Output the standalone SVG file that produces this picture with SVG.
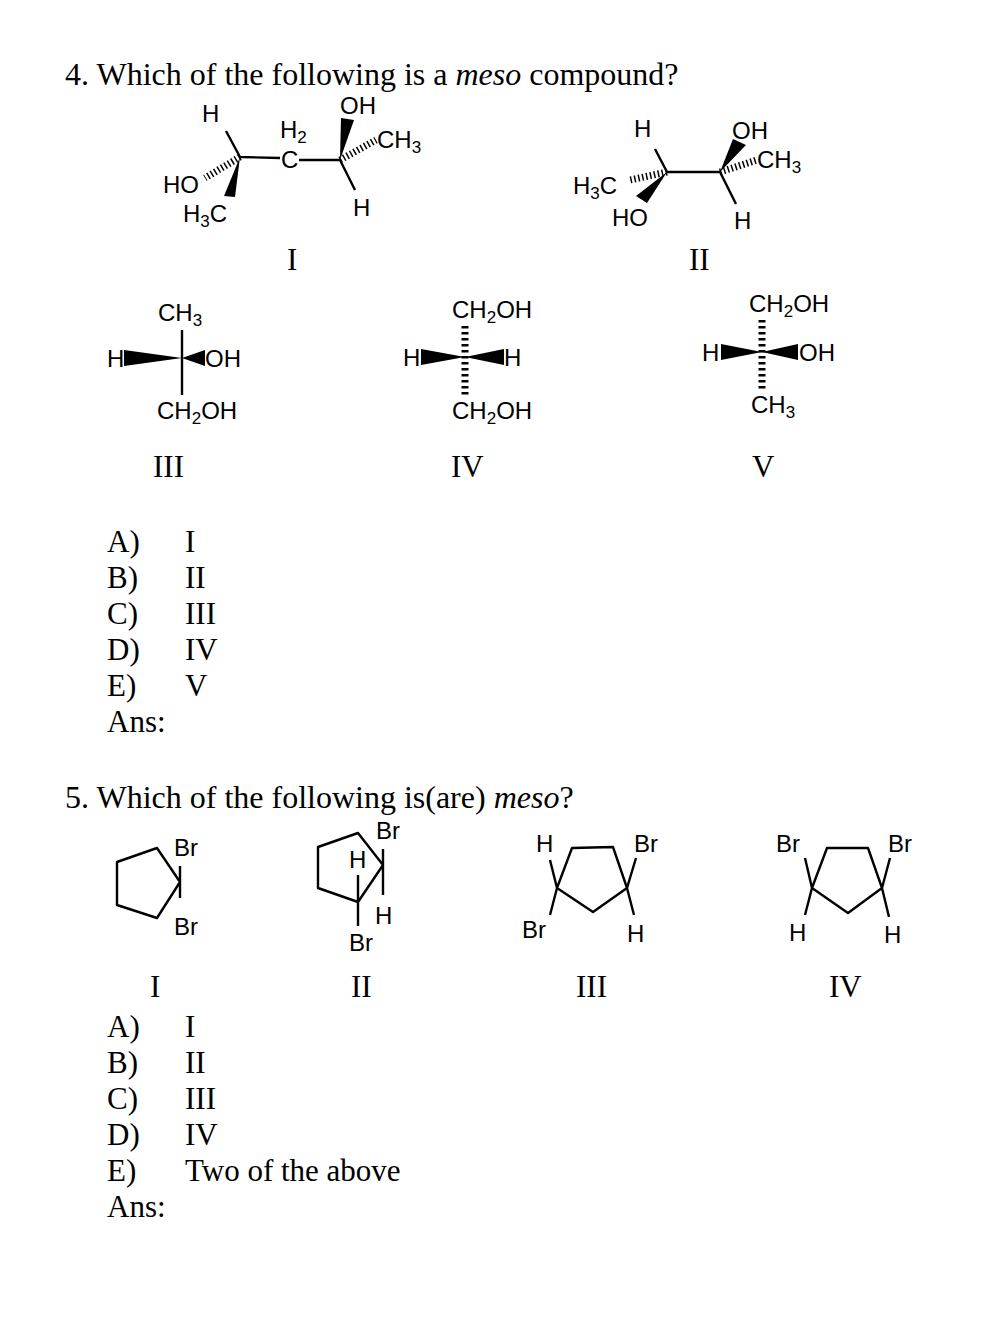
<svg xmlns="http://www.w3.org/2000/svg" width="1000" height="1332" viewBox="0 0 1000 1332">
<style>
.q{font-family:"Liberation Serif",serif;font-size:31px;fill:#000}
.a{font-family:"Liberation Sans",Arial,sans-serif;font-size:24px;fill:#000}
.s{font-size:17px}
.b{stroke:#000;stroke-width:2.4;fill:none;stroke-linejoin:round}
.h{stroke:#000;stroke-width:7;stroke-dasharray:1.5 2.5;fill:none}
.v{stroke:#000;stroke-width:7;stroke-dasharray:2.5 3.5;fill:none}
.w{fill:#000}
</style>
<rect width="1000" height="1332" fill="#fff"/>
<text class="q" x="65" y="85" style="font-size:32px">4. Which of the following is a <tspan font-style="italic">meso</tspan> compound?</text>
<g id="m4I">
<text class="a" x="202" y="122">H</text>
<text class="a" x="163" y="193">HO</text>
<text class="a" x="183" y="222">H<tspan class="s" dy="5">3</tspan><tspan dy="-5">C</tspan></text>
<text class="a" x="280" y="138">H<tspan class="s" dy="5">2</tspan></text>
<text class="a" x="281" y="168">C</text>
<text class="a" x="340" y="114">OH</text>
<text class="a" x="377" y="148">CH<tspan class="s" dy="5">3</tspan></text>
<text class="a" x="353" y="216">H</text>
<path class="b" d="M226 131 L240 157 L280 158 M299 160 L340 160 L355 190"/>
<path class="h" d="M240 157 L205 178"/>
<polygon class="w" points="240,157 224,196 235,197"/>
<polygon class="w" points="340,160 341,118 354,120"/>
<path class="h" d="M340 160 L376 140"/>
<text class="q" x="287" y="270">I</text>
</g>
<g id="m4II">
<text class="a" x="634" y="137">H</text>
<text class="a" x="573" y="194">H<tspan class="s" dy="5">3</tspan><tspan dy="-5">C</tspan></text>
<text class="a" x="612" y="226">HO</text>
<text class="a" x="732" y="139">OH</text>
<text class="a" x="757" y="168">CH<tspan class="s" dy="5">3</tspan></text>
<text class="a" x="734" y="229">H</text>
<path class="b" d="M655 149 L667 172 L720 172 L736 204"/>
<path class="h" d="M667 172 L630 180"/>
<polygon class="w" points="667,172 636,196 647,203"/>
<polygon class="w" points="720,172 733,139 746,145"/>
<path class="h" d="M720 172 L757 160"/>
<text class="q" x="689" y="270">II</text>
</g>
<g id="m4III">
<text class="a" x="158" y="321">CH<tspan class="s" dy="5">3</tspan></text>
<text class="a" x="107" y="367">H</text>
<text class="a" x="205" y="367">OH</text>
<text class="a" x="157" y="419">CH<tspan class="s" dy="5">2</tspan><tspan dy="-5">OH</tspan></text>
<path class="b" d="M182 330 L182 395"/>
<polygon class="w" points="124,350 124,366 182,358"/>
<polygon class="w" points="205,350 205,366 182,358"/>
<text class="q" x="153" y="477">III</text>
</g>
<g id="m4IV">
<text class="a" x="452" y="318">CH<tspan class="s" dy="5">2</tspan><tspan dy="-5">OH</tspan></text>
<text class="a" x="403" y="366">H</text>
<text class="a" x="504" y="366">H</text>
<text class="a" x="452" y="419">CH<tspan class="s" dy="5">2</tspan><tspan dy="-5">OH</tspan></text>
<path class="v" d="M465 326 L465 398"/>
<polygon class="w" points="421,349 421,365 465,357"/>
<polygon class="w" points="504,349 504,365 465,357"/>
<text class="q" x="451" y="477">IV</text>
</g>
<g id="m4V">
<text class="a" x="749" y="312">CH<tspan class="s" dy="5">2</tspan><tspan dy="-5">OH</tspan></text>
<text class="a" x="702" y="361">H</text>
<text class="a" x="799" y="361">OH</text>
<text class="a" x="751" y="413">CH<tspan class="s" dy="5">3</tspan></text>
<path class="v" d="M762 320 L762 392"/>
<polygon class="w" points="721,344 721,360 762,352"/>
<polygon class="w" points="798,344 798,360 762,352"/>
<text class="q" x="752" y="477">V</text>
</g>
<g id="ans4" class="q">
<text x="107" y="552">A)</text><text x="185" y="552">I</text>
<text x="107" y="588">B)</text><text x="185" y="588">II</text>
<text x="107" y="624">C)</text><text x="185" y="624">III</text>
<text x="107" y="660">D)</text><text x="185" y="660">IV</text>
<text x="107" y="696">E)</text><text x="185" y="696">V</text>
<text x="107" y="732">Ans:</text>
</g>
<text class="q" x="65" y="808" style="font-size:32px">5. Which of the following is(are) <tspan font-style="italic">meso</tspan>?</text>
<g id="m5I">
<path class="b" d="M117 862 L157 848 L180 882 L157 918 L117 905 Z M180 882 L180 866 M180 882 L180 898"/>
<text class="a" x="174" y="856">Br</text>
<text class="a" x="174" y="935">Br</text>
<text class="q" x="150" y="997">I</text>
</g>
<g id="m5II">
<path class="b" d="M318 847 L358 833 L383 865 L358 902 L318 888 Z M383 865 L383 849 M383 865 L383 895 M358 902 L358 875 M358 902 L358 926"/>
<text class="a" x="376" y="839">Br</text>
<text class="a" x="349" y="868">H</text>
<text class="a" x="375" y="924">H</text>
<text class="a" x="349" y="951">Br</text>
<text class="q" x="351" y="997">II</text>
</g>
<g id="m5III">
<path class="b" d="M572 848 L613 847 L627 888 L593 912 L557 888 Z M557 888 L550 860 M557 888 L550 915 M627 888 L636 858 M627 888 L634 915"/>
<text class="a" x="536" y="852">H</text>
<text class="a" x="522" y="938">Br</text>
<text class="a" x="634" y="852">Br</text>
<text class="a" x="627" y="942">H</text>
<text class="q" x="576" y="997">III</text>
</g>
<g id="m5IV">
<path class="b" d="M827 848 L868 848 L882 888 L848 913 L812 888 Z M812 888 L805 858 M812 888 L805 915 M882 888 L890 858 M882 888 L889 917"/>
<text class="a" x="776" y="852">Br</text>
<text class="a" x="789" y="941">H</text>
<text class="a" x="888" y="852">Br</text>
<text class="a" x="884" y="943">H</text>
<text class="q" x="829" y="997">IV</text>
</g>
<g id="ans5" class="q">
<text x="107" y="1037">A)</text><text x="185" y="1037">I</text>
<text x="107" y="1073">B)</text><text x="185" y="1073">II</text>
<text x="107" y="1109">C)</text><text x="185" y="1109">III</text>
<text x="107" y="1145">D)</text><text x="185" y="1145">IV</text>
<text x="107" y="1181">E)</text><text x="185" y="1181">Two of the above</text>
<text x="107" y="1217">Ans:</text>
</g>
</svg>
